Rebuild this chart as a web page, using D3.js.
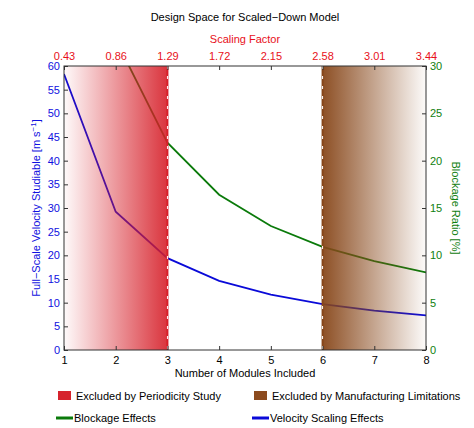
<!DOCTYPE html><html><head><script src="https://cdn.jsdelivr.net/npm/d3@7"></script>
<style>body{margin:0;background:#fff}text{font-family:"Liberation Sans",Arial,sans-serif}</style></head><body>
<svg id="c" width="474" height="428"></svg>
<script>
const modules=[1,2,3,4,5,6,7,8];
const velocity=[58.3,29.2,19.4,14.6,11.7,9.7,8.3,7.3];
const blockage=[65.6,32.8,21.9,16.4,13.1,10.9,9.4,8.2];
const scaleTicks=["0.43","0.86","1.29","1.72","2.15","2.58","3.01","3.44"];
const svg=d3.select("#c");
const L=64,R=426,T=66,B=350;
const x=d3.scaleLinear().domain([1,8]).range([L,R]);
const y=d3.scaleLinear().domain([0,60]).range([B,T]);
const y2=d3.scaleLinear().domain([0,30]).range([B,T]);
const defs=svg.append("defs");
defs.append("clipPath").attr("id","clip").append("rect").attr("x",L).attr("y",T).attr("width",R-L).attr("height",B-T);
const g1=defs.append("linearGradient").attr("id","gr");
g1.append("stop").attr("offset","0").attr("stop-color","rgb(214,30,40)").attr("stop-opacity",0.02);
g1.append("stop").attr("offset","1").attr("stop-color","rgb(214,30,40)").attr("stop-opacity",0.9);
const g2=defs.append("linearGradient").attr("id","gb");
g2.append("stop").attr("offset","0").attr("stop-color","rgb(135,70,25)").attr("stop-opacity",0.95);
g2.append("stop").attr("offset","1").attr("stop-color","rgb(135,70,25)").attr("stop-opacity",0.02);
const pl=svg.append("g").attr("clip-path","url(#clip)");
pl.append("path").datum(modules).attr("fill","none").attr("stroke","#0a0ad8").attr("stroke-width",1.8)
 .attr("d",d3.line().x(d=>x(d)).y((d,i)=>y(velocity[i])));
pl.append("path").datum(modules).attr("fill","none").attr("stroke","#0a7a0a").attr("stroke-width",1.8)
 .attr("d",d3.line().x(d=>x(d)).y((d,i)=>y2(blockage[i])));
pl.append("rect").attr("x",x(1)).attr("y",T).attr("width",x(3)-x(1)).attr("height",B-T).attr("fill","url(#gr)");
pl.append("rect").attr("x",x(6)).attr("y",T).attr("width",x(8)-x(6)).attr("height",B-T).attr("fill","url(#gb)");
[[3,"rgb(214,30,40)"],[6,"rgb(135,70,25)"]].forEach(([v,c])=>{
 svg.append("line").attr("x1",x(v)).attr("x2",x(v)).attr("y1",T).attr("y2",B).attr("stroke",c).attr("stroke-width",2);
 svg.append("line").attr("x1",x(v)).attr("x2",x(v)).attr("y1",T).attr("y2",B).attr("stroke","#fff").attr("stroke-width",1).attr("stroke-dasharray","3,7");
});
svg.append("rect").attr("x",L).attr("y",T).attr("width",R-L).attr("height",B-T).attr("fill","none").attr("stroke","#333").attr("stroke-width",1);
const ax=svg.append("g").attr("transform",`translate(0,${B})`).call(d3.axisBottom(x).ticks(8).tickSize(-4).tickPadding(6));
const axT=svg.append("g").attr("transform",`translate(0,${T})`).call(d3.axisTop(x).ticks(8).tickSize(-4).tickPadding(6).tickFormat((d,i)=>scaleTicks[i]));
const ayl=svg.append("g").attr("transform",`translate(${L},0)`).call(d3.axisLeft(y).ticks(12).tickSize(-4).tickPadding(4));
const ayr=svg.append("g").attr("transform",`translate(${R},0)`).call(d3.axisRight(y2).ticks(6).tickSize(-4).tickPadding(4));
[[ax,"#000"],[axT,"#e8101a"],[ayl,"#1010e0"],[ayr,"#108010"]].forEach(([a,c])=>{a.select(".domain").remove();a.selectAll("line").attr("stroke","#333");a.selectAll("text").attr("fill",c).attr("font-size",11).attr("font-family","Liberation Sans, Arial");});
svg.append("text").attr("x",245).attr("y",21).attr("text-anchor","middle").attr("font-size",11).text("Design Space for Scaled−Down Model");
svg.append("text").attr("x",245).attr("y",43).attr("text-anchor","middle").attr("font-size",11).attr("fill","#e8101a").text("Scaling Factor");
svg.append("text").attr("x",245).attr("y",377).attr("text-anchor","middle").attr("font-size",11).text("Number of Modules Included");
const yl=svg.append("text").attr("transform",`translate(40,${(T+B)/2}) rotate(-90)`).attr("text-anchor","middle").attr("font-size",11).attr("fill","#1010e0");
yl.append("tspan").text("Full−Scale Velocity Studiable [m s");
yl.append("tspan").attr("font-size",8).attr("dy",-4).text("−1");
yl.append("tspan").attr("dy",4).text("]");
svg.append("text").attr("transform",`translate(452,${(T+B)/2}) rotate(90)`).attr("text-anchor","middle").attr("font-size",11).attr("fill","#108010").text("Blockage Ratio [%]");
const leg=[["Excluded by Periodicity Study","rect","rgb(214,35,45)",58,396],["Excluded by Manufacturing Limitations","rect","rgb(140,75,30)",254,396],["Blockage Effects","line","#0a7a0a",56,418],["Velocity Scaling Effects","line","#0a0ad8",252,418]];
leg.forEach(([t,k,c,lx,ly])=>{
 if(k==="rect") svg.append("rect").attr("x",lx).attr("y",ly-5).attr("width",13).attr("height",9).attr("fill",c);
 else svg.append("line").attr("x1",lx).attr("x2",lx+17).attr("y1",ly).attr("y2",ly).attr("stroke",c).attr("stroke-width",3);
 svg.append("text").attr("x",lx+18).attr("y",ly+4).attr("font-size",11).text(t);
});
</script></body></html>
